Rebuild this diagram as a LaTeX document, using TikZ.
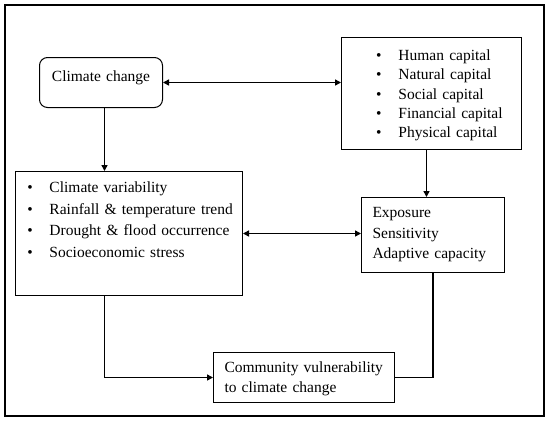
\documentclass[tikz,border=0pt]{standalone}
\usepackage{fontspec}
\setmainfont{Liberation Serif}
\usetikzlibrary{arrows.meta}
\newcommand{\bul}[1]{\makebox[#1][l]{\textbullet}}
\begin{document}
\begin{tikzpicture}[x=1pt,y=-1pt,
    box/.style={draw,line width=1pt,inner sep=0pt,align=left,anchor=north west},
    arr/.style={line width=1.5pt,-{Triangle[length=6pt,width=6pt]}},
    biarr/.style={line width=1.5pt,{Triangle[length=6pt,width=6pt]}-{Triangle[length=6pt,width=6pt]}},
    font=\fontsize{15.5}{19.3}\selectfont]
  \useasboundingbox (0,0) rectangle (550,421);
  \draw[line width=1.8pt] (5,5) rectangle (544,416);
  \draw
    (39,57) node[box,rounded corners=8pt,align=center,text width=123pt,
      text height=23.5pt,text depth=26.5pt] (cc){Climate change}
    (341,37) node[box,text width=180pt,text height=23pt,text depth=88.5pt] (cap){%
      \hspace*{34.5pt}\bul{22.5pt}Human capital\\
      \hspace*{34.5pt}\bul{22.5pt}Natural capital\\
      \hspace*{34.5pt}\bul{22.5pt}Social capital\\
      \hspace*{34.5pt}\bul{22.5pt}Financial capital\\
      \hspace*{34.5pt}\bul{22.5pt}Physical capital}
    (15,171) node[box,text width=227pt,text height=21pt,text depth=103pt,
      font=\fontsize{15.5}{21.5}\selectfont] (var){%
      \hspace*{12pt}\bul{22pt}Climate variability\\
      \hspace*{12pt}\bul{22pt}Rainfall \& temperature trend\\
      \hspace*{12pt}\bul{22pt}Drought \& flood occurrence\\
      \hspace*{12pt}\bul{22pt}Socioeconomic stress}
    (361,197) node[box,text width=143pt,text height=20pt,text depth=55.4pt,
      font=\fontsize{15.5}{20.7}\selectfont] (exp){%
      \hspace*{11pt}Exposure\\
      \hspace*{11pt}Sensitivity\\
      \hspace*{11pt}Adaptive capacity}
    (213,352) node[box,text width=181pt,text height=19.7pt,text depth=30.3pt,
      font=\fontsize{15.5}{20}\selectfont] (com){%
      \hspace*{11pt}Community vulnerability\\
      \hspace*{11pt}to climate change};
  \draw[biarr] (cc.east) -- (cc.east -| cap.west);
  \draw[arr] ([xshift=3.5pt]cc.south) -- ([xshift=3.5pt]cc.south |- var.north);
  \draw[arr] ([xshift=-5pt]cap.south) -- ([xshift=-5pt]cap.south |- exp.north);
  \draw[biarr] (var.east) -- (var.east -| exp.west);
  \draw[arr] ([xshift=-24.5pt]var.south) |- (com.west);
  \draw[line width=1.5pt] (exp.south) |- (com.east);
\end{tikzpicture}
\end{document}
